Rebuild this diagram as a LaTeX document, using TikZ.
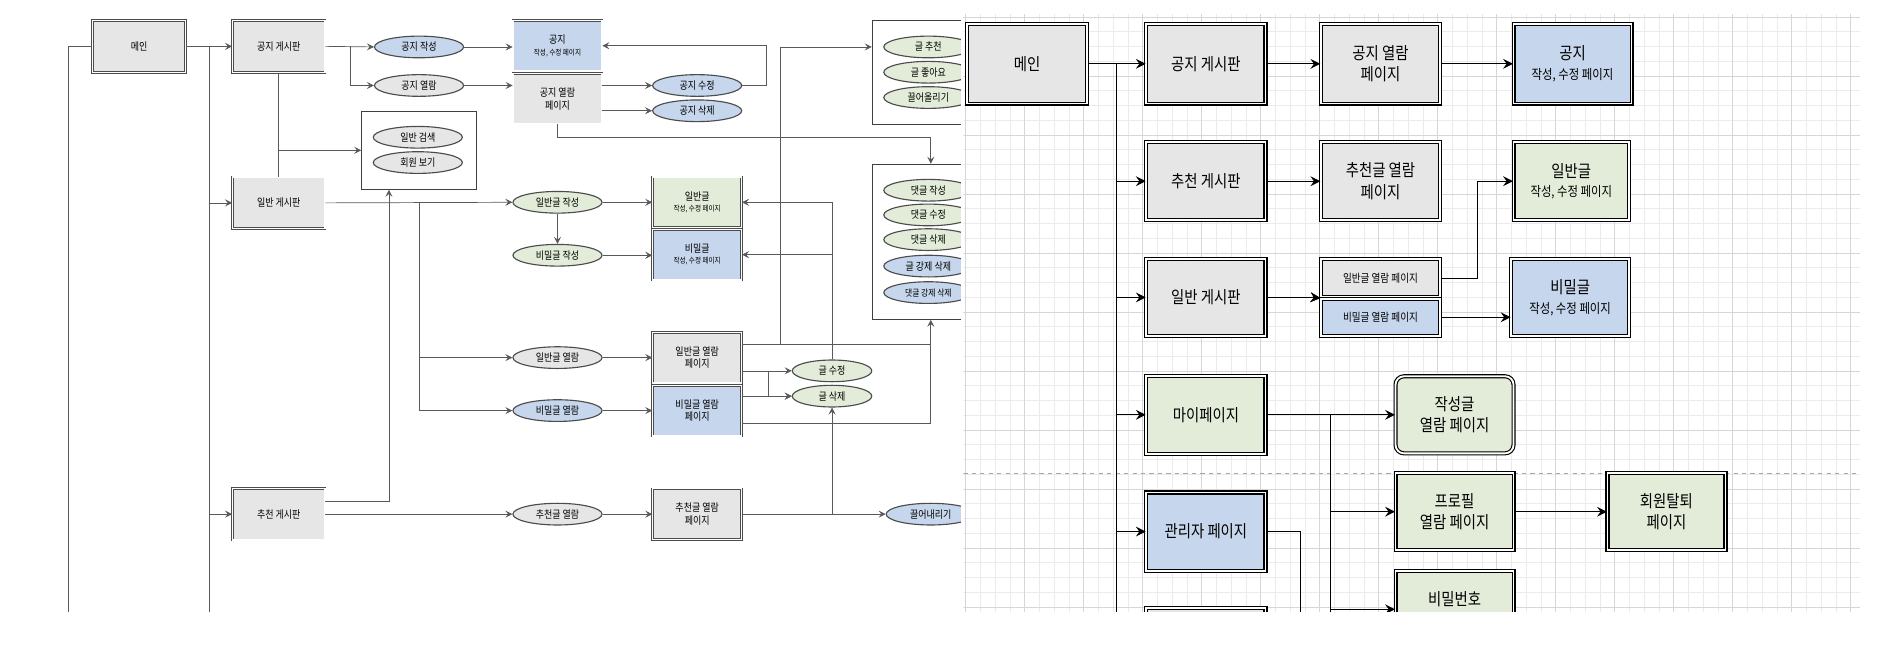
\documentclass[tikz,border=0pt]{standalone}
\usepackage{fontspec}
\setmainfont{Noto Sans CJK KR}[FakeStretch=0.85]
\usetikzlibrary{arrows.meta,shapes.geometric,calc}
\definecolor{cg}{HTML}{E6E6E6}
\definecolor{cb}{HTML}{C6D6EC}
\definecolor{cn}{HTML}{E3ECD8}
\begin{document}
\begin{tikzpicture}[x=0.03cm,y=-0.03cm,
  sz/.style 2 args={minimum width={#1*0.03cm}, minimum height={#2*0.03cm}},
  lbox/.style={draw=black!70, line width=0.5pt, double=white, double distance=0.9pt, inner sep=0pt, align=center, font=\fontsize{7.5}{9}\selectfont, sz={74}{42}},
  lell/.style={ellipse, draw=black!70, line width=0.8pt, inner sep=0pt, font=\fontsize{7.5}{9}\selectfont, sz={74}{18}},
  lcont/.style={draw=black!75, line width=0.5pt, fill=white, inner sep=0pt},
  ll/.style={draw=black!65, line width=0.5pt},
  la/.style={ll, -{Stealth[length=5pt,width=5pt,inset=2pt]}},
  rbox/.style={draw=black, line width=0.8pt, double=white, double distance=1.3pt, inner sep=0pt, align=center, font=\fontsize{12}{15}\selectfont, sz={98}{64}},
  rl/.style={draw=black, line width=0.8pt},
  ra/.style={rl, -{Stealth[length=7pt,width=7pt,inset=2.5pt]}},
  sub/.style={font=\fontsize{5.5}{7}\selectfont},
  rsub/.style={font=\fontsize{9}{11}\selectfont}
]
\fill[white] (0,0) rectangle (1568,538);
% ================= LEFT PANEL =================
\begin{scope}
\clip (0,0) rectangle (798,508);
\node[lcont, sz={106}{86}, anchor=north west] (Lc1) at (724,17) {};
\node[lcont, sz={106}{129}, anchor=north west] (Lc2) at (724,136) {};
\node[lcont, sz={95}{65}, anchor=north west] (Ls) at (300,92) {};
\node[lbox, fill=cg, sz={77}{43}] (Lmain) at (115.5,38.5) {메인};
\node[lbox, fill=cg, sz={77}{43}] (Lgb) at (231.5,38.5) {공지 게시판};
\node[lbox, fill=cg, sz={77}{43}] (Lib) at (231.5,168.5) {일반 게시판};
\node[lbox, fill=cg, sz={77}{43}] (Lrb) at (231.5,427) {추천 게시판};
\node[lbox, fill=cb] (Lnw) at (463,38) {공지\\[-1pt]{\fontsize{5.5}{7}\selectfont 작성, 수정 페이지}};
\node[lbox, fill=cg] (Lnv) at (463,82) {공지 열람\\페이지};
\node[lbox, fill=cn] (Lgw) at (579,168) {일반글\\[-1pt]{\fontsize{5.5}{7}\selectfont 작성, 수정 페이지}};
\node[lbox, fill=cb] (Lsw) at (579,211.5) {비밀글\\[-1pt]{\fontsize{5.5}{7}\selectfont 작성, 수정 페이지}};
\node[lbox, fill=cg] (Lgv) at (579,297) {일반글 열람\\페이지};
\node[lbox, fill=cb] (Lsv) at (579,341) {비밀글 열람\\페이지};
\node[lbox, fill=cg] (Lrv) at (579,427) {추천글 열람\\페이지};
\node[lell, fill=cb] (e1) at (348,39) {공지 작성};
\node[lell, fill=cg] (e2) at (348,71) {공지 열람};
\node[lell, fill=cb] (e3) at (579,71) {공지 수정};
\node[lell, fill=cb] (e4) at (579,92) {공지 삭제};
\node[lell, fill=cn] (eg1) at (463,168) {일반글 작성};
\node[lell, fill=cn] (eg2) at (463,212) {비밀글 작성};
\node[lell, fill=cg] (ev1) at (463,297) {일반글 열람};
\node[lell, fill=cb] (ev2) at (463,341) {비밀글 열람};
\node[lell, fill=cg] (er) at (463,427) {추천글 열람};
\node[lell, fill=cn, sz={66}{18}] (eEdit) at (691,308) {글 수정};
\node[lell, fill=cn, sz={66}{18}] (eDel) at (691,329) {글 삭제};
\node[lell, fill=cb] (eDown) at (773,427) {끌어내리기};
\node[lell, fill=cg] (es1) at (347,114) {일반 검색};
\node[lell, fill=cg] (es2) at (347,135) {회원 보기};
\node[lell, fill=cn] (c11) at (771,39) {글 추천};
\node[lell, fill=cn] (c12) at (771,60) {글 좋아요};
\node[lell, fill=cn] (c13) at (771,81) {끌어올리기};
\node[lell, fill=cn] (c21) at (771,158) {댓글 작성};
\node[lell, fill=cn] (c22) at (771,178.5) {댓글 수정};
\node[lell, fill=cn] (c23) at (771,199) {댓글 삭제};
\node[lell, fill=cb] (c24) at (771,221) {글 강제 삭제};
\node[lell, fill=cb, font=\fontsize{6.5}{8}\selectfont] (c25) at (771,243) {댓글 강제 삭제};
% coordinates
\coordinate (LL) at (57,540);
\coordinate (LT) at (174,540);
\coordinate (Lk) at (773,114);
\coordinate (Lbr) at (348,168.5);
\coordinate (Lup) at (323,416.6);
\coordinate (Lx1) at (648,286.4);
\coordinate (Lx2) at (773,286.4);
\coordinate (Lx3) at (773,351.5);
\coordinate (Ld) at (638,308);
% connectors
\draw[ll] (Lmain.west) -| (LL);
\draw[la] (Lmain.east) -- (Lgb.west);
\draw[ll] (LT) -- (LT |- Lmain.east);
\draw[la] (LT |- Lib.west) -- (Lib.west);
\draw[la] (LT |- Lrb.west) -- (Lrb.west);
\draw[la] (Lgb.east) -- (e1.west);
\draw[la] ($(Lgb.east)+(21,0)$) |- (e2.west);
\draw[la] (e1.east) -- (Lnw.west |- e1.east);
\draw[la] (e2.east) -- (Lnv.west |- e2.east);
\draw[la] (Lnv.east |- e3.west) -- (e3.west);
\draw[la] (Lnv.east |- e4.west) -- (e4.west);
\draw[la] (e3.east) -- ($(e3.east)+(20,0)$) |- (Lnw.east);
\draw[la] (Lnv.south) |- (Lk) -- (Lk |- Lc2.north);
\draw[ll] (Lgb.south) -- (Lib.north);
\draw[la] (Lgb.south |- Ls.west) -- (Ls.west);
\draw[la] (Lib.east) -- (eg1.west);
\draw[la] (Lbr) |- (ev1.west);
\draw[la] (Lbr) |- (ev2.west);
\draw[la] (Lrb.east |- Lup) -- (Lup) -- (Lup |- Ls.south);
\draw[la] (Lrb.east) -- (er.west);
\draw[la] (er.east) -- (Lrv.west);
\draw[la] (eg1.east) -- (Lgw.west);
\draw[la] (eg1.south) -- (eg2.north);
\draw[la] (eg2.east) -- (Lsw.west |- eg2.east);
\draw[la] (ev1.east) -- (Lgv.west);
\draw[la] (ev2.east) -- (Lsv.west);
\draw[ll] (eEdit.north) -- (eEdit.north |- Lgw.east);
\draw[la] (eEdit.north |- Lgw.east) -- (Lgw.east);
\draw[la] (eEdit.north |- Lsw.east) -- (Lsw.east);
\draw[ll] (Lgv.east |- Lx1) -- (Lx2);
\draw[la] (Lx1) |- (Lc1.west |- e1.east);
\draw[la] (Lx3 -| Lsv.east) -- (Lx3) -- (Lx2) -- (Lx2 |- Lc2.south);
\draw[la] (Lgv.east |- Ld) -- (eEdit.west);
\draw[la] (Ld) |- (eDel.west);
\draw[la] (Lsv.east |- eDel.west) -- (eDel.west);
\draw[la] (Lrv.east) -- (eDown.west);
\draw[la] (eDel.south |- Lrv.east) -- (eDel.south);
\end{scope}
% ================= RIGHT PANEL =================
\begin{scope}
\clip (800,12) rectangle (1545,508);
\fill[white] (800,12) rectangle (1545,508);
\foreach \i in {0,...,61} {\draw[black!8, line width=0.4pt] ({802+\i*12.25},12) -- ({802+\i*12.25},508);}
\foreach \i in {0,...,41} {\draw[black!8, line width=0.4pt] (800,{14+\i*12.25}) -- (1545,{14+\i*12.25});}
\foreach \i in {0,...,15} {\draw[black!16, line width=0.5pt] ({802+\i*49},12) -- ({802+\i*49},508);}
\foreach \i in {0,...,10} {\draw[black!16, line width=0.5pt] (800,{14+\i*49}) -- (1545,{14+\i*49});}
\draw[black!35, dashed, line width=0.6pt] (800,393) -- (1545,393);
\node[rbox, fill=cg, sz={100}{66}] (Rmain) at (853,53) {메인};
\node[rbox, fill=cg, sz={99}{66}] (Rgb) at (1001.5,53) {공지 게시판};
\node[rbox, fill=cg, sz={99}{66}] (Rnv) at (1146.5,53) {공지 열람\\페이지};
\node[rbox, fill=cb, sz={98}{66}] (Rnw) at (1306,53) {공지\\[-1pt]{\fontsize{9.5}{11}\selectfont 작성, 수정 페이지}};
\node[rbox, fill=cg, sz={99}{65}] (Rrb) at (1001.5,150.5) {추천 게시판};
\node[rbox, fill=cg, sz={99}{65}] (Rrv) at (1146.5,150.5) {추천글 열람\\페이지};
\node[rbox, fill=cn, sz={96}{65}] (Rgw) at (1305,150.5) {일반글\\[-1pt]{\fontsize{9.5}{11}\selectfont 작성, 수정 페이지}};
\node[rbox, fill=cg, sz={99}{64}] (Rib) at (1001.5,247) {일반 게시판};
\node[rbox, fill=cg, sz={99}{32}, font=\fontsize{8}{10}\selectfont] (Rgv) at (1146.5,231) {일반글 열람 페이지};
\node[rbox, fill=cb, sz={99}{31}, font=\fontsize{8}{10}\selectfont] (Rsv) at (1146.5,263.5) {비밀글 열람 페이지};
\node[rbox, fill=cb, sz={98}{64}] (Rsw) at (1304,247) {비밀글\\[-1pt]{\fontsize{9.5}{11}\selectfont 작성, 수정 페이지}};
\node[rbox, fill=cn, sz={99}{65}] (Rmy) at (1001.5,344.5) {마이페이지};
\node[rbox, fill=cn, rounded corners=6pt] (Rwr) at (1208,344.5) {작성글\\열람 페이지};
\node[rbox, fill=cb, sz={99}{65}] (Rad) at (1001.5,441.5) {관리자 페이지};
\node[rbox, fill=cn] (Rpf) at (1208,425) {프로필\\열람 페이지};
\node[rbox, fill=cn] (Rqt) at (1384,425) {회원탈퇴\\페이지};
\node[rbox, fill=cn] (Rpw) at (1208,506) {비밀번호\\변경 페이지};
\node[rbox, fill=cg, sz={99}{64}] (Rx) at (1001.5,537) {};
\coordinate (RT) at (927,520);
\coordinate (RM) at (1105,520);
\coordinate (RA) at (1080,520);
\coordinate (Rf) at (1090,247);
\coordinate (Rj) at (1227,231);
\draw[ra] (Rmain.east) -- (Rgb.west);
\draw[rl] (RT) -- (RT |- Rmain.east);
\draw[ra] (RT |- Rrb.west) -- (Rrb.west);
\draw[ra] (RT |- Rib.west) -- (Rib.west);
\draw[ra] (RT |- Rmy.west) -- (Rmy.west);
\draw[ra] (RT |- Rad.west) -- (Rad.west);
\draw[ra] (Rgb.east) -- (Rnv.west);
\draw[ra] (Rnv.east) -- (Rnw.west);
\draw[ra] (Rrb.east) -- (Rrv.west);
\draw[rl] (Rib.east) -- (Rf);
\draw[ra] (Rf) -- (Rgv.south west);
\draw[ra] (Rf) -- (Rsv.north west);
\draw[ra] (Rgv.east) -- (Rj) |- (Rgw.west);
\draw[ra] (Rsv.east) -- (Rsw.west |- Rsv.east);
\draw[ra] (Rmy.east) -- (Rwr.west);
\draw[rl] (RM) -- (RM |- Rmy.east);
\draw[ra] (RM |- Rpf.west) -- (Rpf.west);
\draw[ra] (RM |- Rpw.west) -- (Rpw.west);
\draw[ra] (Rpf.east) -- (Rqt.west);
\draw[rl] (Rad.east) -| (RA);
\end{scope}
\end{tikzpicture}
\end{document}
